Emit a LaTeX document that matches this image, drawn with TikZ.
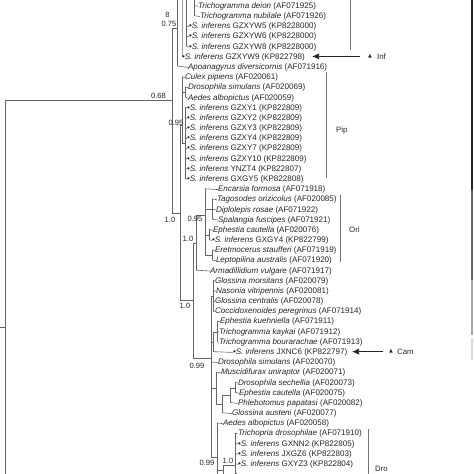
\documentclass[tikz,border=0pt]{standalone}
\usepackage{fontspec}
\setmainfont{Liberation Sans}
\newfontfamily\dejavu{DejaVu Sans}
\usetikzlibrary{arrows.meta}
\newcommand\ry[1]{5.5+10.18*#1}
\tikzset{
  br/.style={draw=black!60,line width=0.6pt},
  lf/.style={anchor=base west,inner sep=0pt,outer sep=0pt,yshift=-2.9pt,text=black!85,font=\fontsize{8.05}{9}\selectfont},
  sup/.style={inner sep=0pt,text=black!85,font=\fontsize{7.6}{9}\selectfont},
  bar/.style={draw=black!55,line width=0.6pt},
  grp/.style={anchor=west,inner sep=0pt,text=black!85,font=\fontsize{7.8}{9}\selectfont},
  tri/.style={inner sep=0pt,text=black!85,font=\dejavu\fontsize{5}{6}\selectfont},
  arr/.style={draw=black!85,line width=0.7pt,-{Latex[length=7pt,width=6pt]}}
}
\newcommand\lfx[3]{\node[lf] (l#1) at (#2,{\ry{#1}}) {#3};}
\newcommand\si{•\textit{S. inferens}}
\begin{document}
\begin{tikzpicture}[x=1pt,y=-1pt]
\useasboundingbox (0,0) rectangle (474,474);
\clip (0,0) rectangle (474,474);
\fill[white] (0,0) rectangle (474,474);
% ---------- leaves
\lfx{0}{198}{\textit{Trichogramma deion} (AF071925)}
\lfx{1}{200}{\textit{Trichogramma nubilale} (AF071926)}
\lfx{2}{189}{\si{} GZXYW5 (KP8228000)}
\lfx{3}{189}{\si{} GZXYW6 (KP8228000)}
\lfx{4}{189}{\si{} GZXYW8 (KP8228000)}
\lfx{5}{182}{\si{} GZXYW9 (KP822798)}
\lfx{6}{188}{\textit{Apoanagyrus diversicornis} (AF071916)}
\lfx{7}{185}{\textit{Culex pipiens} (AF020061)}
\lfx{8}{188}{\textit{Drosophila simulans} (AF020069)}
\lfx{9}{188}{\textit{Aedes albopictus} (AF020059)}
\lfx{10}{187}{\si{} GZXY1 (KP822809)}
\lfx{11}{187}{\si{} GZXY2 (KP822809)}
\lfx{12}{187}{\si{} GZXY3 (KP822809)}
\lfx{13}{187}{\si{} GZXY4 (KP822809)}
\lfx{14}{187}{\si{} GZXY7 (KP822809)}
\lfx{15}{187}{\si{} GZXY10 (KP822809)}
\lfx{16}{187}{\si{} YNZT4 (KP822807)}
\lfx{17}{187}{\si{} GXGY5 (KP822808)}
\lfx{18}{218}{\textit{Encarsia formosa} (AF071918)}
\lfx{19}{217}{\textit{Tagosodes orizicolus} (AF020085)}
\lfx{20}{216}{\textit{Diplolepis rosae} (AF071922)}
\lfx{21}{218}{\textit{Spalangia fuscipes} (AF071921)}
\lfx{22}{213}{\textit{Ephestia cautella} (AF020076)}
\lfx{23}{212}{\si{} GXGY4 (KP822799)}
\lfx{24}{215}{\textit{Eretmocerus staufferi} (AF071919)}
\lfx{25}{216}{\textit{Leptopilina australis} (AF071920)}
\lfx{26}{210}{\textit{Armadillidium vulgare} (AF071917)}
\lfx{27}{215}{\textit{Glossina morsitans} (AF020079)}
\lfx{28}{216}{\textit{Nasonia vitripennis} (AF020081)}
\lfx{29}{215}{\textit{Glossina centralis} (AF020078)}
\lfx{30}{215}{\textit{Coccidoxenoides peregrinus} (AF071914)}
\lfx{31}{220}{\textit{Ephestia kuehniella} (AF071911)}
\lfx{32}{219}{\textit{Trichogramma kaykai} (AF071912)}
\lfx{33}{219}{\textit{Trichogramma bourarachae} (AF071913)}
\lfx{34}{233}{\si{} JXNC6 (KP822797)}
\lfx{35}{218}{\textit{Drosophila simulans} (AF020070)}
\lfx{36}{221}{\textit{Muscidifurax uniraptor} (AF020071)}
\lfx{37}{238}{\textit{Drosophila sechellia} (AF020073)}
\lfx{38}{239}{\textit{Ephestia cautella} (AF020075)}
\lfx{39}{238}{\textit{Phlebotomus papatasi} (AF020082)}
\lfx{40}{232}{\textit{Glossina austeni} (AF020077)}
\lfx{41}{223}{\textit{Aedes albopictus} (AF020058)}
\lfx{42}{238}{\textit{Trichopria drosophilae} (AF071910)}
\lfx{43}{238}{\si{} GXNN2 (KP822805)}
\lfx{44}{238}{\si{} JXGZ6 (KP822803)}
\lfx{45}{238}{\si{} GXYZ3 (KP822804)}
% ---------- internal coordinates
\coordinate (root) at (5,327);
\coordinate (n1) at (172,100);
\coordinate (n2) at (177,28);
\coordinate (m) at (180,213);
\coordinate (p) at (182,125);
\coordinate (L) at (193,300);
\coordinate (O) at (196,243);
\coordinate (Q) at (205,215);
\coordinate (D) at (211,358);
\coordinate (E) at (216,388);
\coordinate (F) at (222,404);
\coordinate (H) at (230,395);
\coordinate (I) at (235,388);
\coordinate (K) at (217,457);
\coordinate (Kc) at (223,470);
\coordinate (dro) at (235,465);
% ---------- root and backbone
\draw[br,line width=0.9pt] (0,327) -- (root);
\draw[br,line width=0.9pt] (5,100) -- (5,480);
\draw[br] (5,100) -- (n1);
\draw[br] (172,28) -- (172,213);
\draw[br] (172,28) -- (n2);
% Inf clade (top, partly off frame)
\draw[br] (177,-5) -- (177,66);
\draw[br] (177,66) -- (l6.west);
\draw[br] (182,-5) -- (182,56.4) -- (l5.west);
\draw[br] (186,-5) -- (186,{\ry{4}});
\foreach \i in {2,3,4} \draw[br] (186,{\ry{\i}}) -- (l\i.west);
\draw[br] (194,-5) -- (194,{\ry{1}});
\draw[br] (194,{\ry{0}}) -- (l0.west);
\draw[br] (194,{\ry{1}}) -- (l1.west);
% M and Pip
\draw[br] (172,213) -- (m);
\draw[br] (180,125) -- (180,300);
\draw[br] (180,125) -- (p);
\draw[br] (182,{\ry{7}}) -- (182,143);
\draw[br] (182,{\ry{7}}) -- (l7.west);
\draw[br] (182,92) -- (185,92);
\draw[br] (185,{\ry{8}}) -- (185,{\ry{9}});
\draw[br] (185,{\ry{8}}) -- (l8.west);
\draw[br] (185,{\ry{9}}) -- (l9.west);
\draw[br] (182,143) -- (185,143);
\draw[br] (185,{\ry{10}}) -- (185,{\ry{17}});
\foreach \i in {10,...,17} \draw[br] (185,{\ry{\i}}) -- (l\i.west);
% L
\draw[br] (180,300) -- (L);
\draw[br] (193,243) -- (193,358);
% Ori
\draw[br] (193,243) -- (O);
\draw[br] (196,215) -- (196,{\ry{26}});
\draw[br] (196,{\ry{26}}) -- (l26.west);
\draw[br] (196,215) -- (Q);
\draw[br] (205,{\ry{18}}) -- (205,255);
\draw[br] (205,{\ry{18}}) -- (l18.west);
\draw[br] (205,209) -- (212,209);
\draw[br] (212,{\ry{19}}) -- (212,{\ry{21}});
\foreach \i in {19,20,21} \draw[br] (212,{\ry{\i}}) -- (l\i.west);
\draw[br] (205,235) -- (209,235);
\draw[br] (209,{\ry{22}}) -- (209,{\ry{23}});
\foreach \i in {22,23} \draw[br] (209,{\ry{\i}}) -- (l\i.west);
\draw[br] (205,255) -- (212,255);
\draw[br] (212,{\ry{24}}) -- (212,{\ry{25}});
\foreach \i in {24,25} \draw[br] (212,{\ry{\i}}) -- (l\i.west);
% D
\draw[br] (193,358) -- (D);
\draw[br] (211,296) -- (211,457);
\draw[br] (211,296) -- (213,296);
\draw[br] (213,{\ry{27}}) -- (213,{\ry{30}});
\foreach \i in {27,...,30} \draw[br] (213,{\ry{\i}}) -- (l\i.west);
\draw[br] (211,342) -- (213,342);
\draw[br] (213,332) -- (213,{\ry{34}});
\draw[br] (213,{\ry{34}}) -- (l34.west);
\draw[br] (213,332) -- (217,332);
\draw[br] (217,{\ry{31}}) -- (217,{\ry{33}});
\foreach \i in {31,32,33} \draw[br] (217,{\ry{\i}}) -- (l\i.west);
\draw[br] (211,{\ry{35}}) -- (l35.west);
\draw[br] (211,388) -- (E);
\draw[br] (216,{\ry{36}}) -- (216,404);
\draw[br] (216,{\ry{36}}) -- (l36.west);
\draw[br] (216,404) -- (F);
\draw[br] (222,395) -- (222,{\ry{40}});
\draw[br] (222,{\ry{40}}) -- (l40.west);
\draw[br] (222,395) -- (H);
\draw[br] (230,388) -- (230,{\ry{39}});
\draw[br] (230,{\ry{39}}) -- (l39.west);
\draw[br] (230,388) -- (I);
\draw[br] (235,{\ry{37}}) -- (235,{\ry{38}});
\foreach \i in {37,38} \draw[br] (235,{\ry{\i}}) -- (l\i.west);
% K and Dro
\draw[br] (211,457) -- (K);
\draw[br] (217,{\ry{41}}) -- (217,480);
\draw[br] (217,{\ry{41}}) -- (l41.west);
\draw[br] (217,470) -- (Kc);
\draw[br] (223,465) -- (223,480);
\draw[br] (223,465) -- (dro);
\draw[br] (235,{\ry{42}}) -- (235,480);
\foreach \i in {42,...,45} \draw[br] (235,{\ry{\i}}) -- (l\i.west);
\draw[br] (235,{\ry{46}}) -- (237,{\ry{46}});
% ---------- support values
\node[sup] (s8) at (167.5,15) {8};
\node[sup] (s075) at (169,23.5) {0.75};
\node[sup] (s068) at (158.5,95.5) {0.68};
\node[sup] (s095a) at (176,123) {0.95};
\node[sup] (s10a) at (170,220) {1.0};
\node[sup] (s095b) at (195,219) {0.95};
\node[sup] (s10b) at (188,239) {1.0};
\node[sup] (s10c) at (185,306) {1.0};
\node[sup] (s099a) at (197,366) {0.99};
\node[sup] (s099b) at (207,463) {0.99};
\node[sup] (s10d) at (228,461) {1.0};
% ---------- group annotations
\draw[bar] (350,-5) -- (350,50);
\node[tri] (tinf) at (370,56.4) {▲};
\node[grp] (ginf) at (377,56.4) {Inf};
\coordinate (ainf) at (360,56.4);
\draw[arr] (ainf) -- (312,56.4);
\draw[bar] (326,72) -- (326,178);
\node[grp] (gpip) at (336,130) {Pip};
\draw[bar] (340,195) -- (340,262);
\node[grp] (gori) at (349,230) {Ori};
\node[tri] (tcam) at (391,{\ry{34}}) {▲};
\node[grp] (gcam) at (397,{\ry{34}}) {Cam};
\coordinate (acam) at (383,{\ry{34}});
\draw[arr] (acam) -- (352,{\ry{34}});
\draw[bar] (368,429) -- (368,480);
\node[grp] (gdro) at (375,468.5) {Dro};
% ---------- right edge artefact
\draw[line width=1.8pt,black!85] (472,0) -- (472,190);
\draw[line width=1.8pt,black!60] (472,190) -- (472,280);
\draw[line width=1.8pt,black!35] (472,280) -- (472,335);
\draw[line width=1.8pt,black!15] (472,338) -- (472,360);
\end{tikzpicture}
\end{document}
